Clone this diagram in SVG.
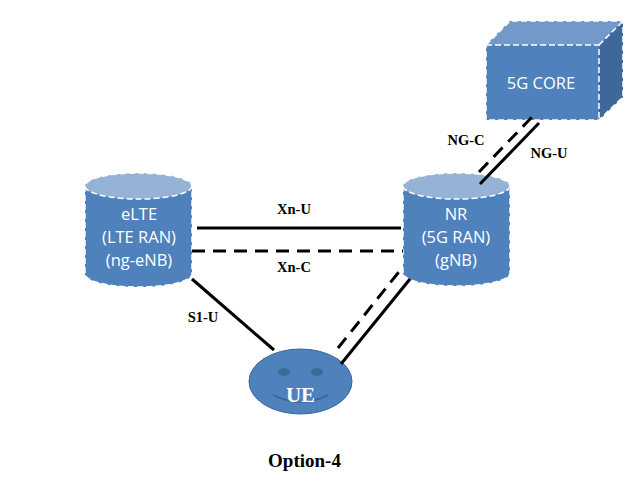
<svg xmlns="http://www.w3.org/2000/svg" width="640" height="483" viewBox="0 0 640 483">
<style>
.body{fill:#4f81bd;stroke:#fff;stroke-width:1.5;stroke-dasharray:6 3}
.top{fill:#95b3d7;stroke:#fff;stroke-width:1.5;stroke-dasharray:6 3}
.solid{fill:none;stroke:#000;stroke-width:3}
.dash{fill:none;stroke:#000;stroke-width:3;stroke-dasharray:13 8}
.in{font-family:"Open Sans","Noto Sans",sans-serif;font-size:16.500px;fill:#fff;text-anchor:middle}
.lab{font-family:"Liberation Serif",serif;font-weight:bold;font-size:14.500px;fill:#000;text-anchor:middle}
</style>
<rect width="640" height="483" fill="#fff"/>
<g id="core">
<path d="M486 45L510 21H623V97L599 120H486Z" fill="#4f81bd"/>
<path d="M486 45L510 21H623L599 45Z" fill="#7299ca"/>
<path d="M599 45L623 21V97L599 120Z" fill="#3f689a"/>
<path d="M486 45H599V120M599 45L623 21" fill="none" stroke="#fff" stroke-width="1.500" stroke-dasharray="6 3"/>
<path d="M486 45L510 21H623V97L599 120H486Z" fill="none" stroke="#fff" stroke-width="1.500" stroke-dasharray="6 3"/>
<text class="in" x="541" y="89">5G CORE</text>
</g>
<g id="elte">
<path class="body" d="M85 186V274C85 281 107 287 138 287S192 281 192 274V186Z"/>
<ellipse class="top" cx="138.500" cy="186" rx="53.500" ry="13"/>
<text class="in" x="139" y="220">eLTE</text>
<text class="in" x="139" y="243">(LTE RAN)</text>
<text class="in" x="139" y="266">(ng-eNB)</text>
</g>
<g id="nr">
<path class="body" d="M403 186V273C403 280 425 286 456 286S510 280 510 273V186Z"/>
<ellipse class="top" cx="456.500" cy="186" rx="53.500" ry="13"/>
<text class="in" x="456" y="220">NR</text>
<text class="in" x="456" y="243">(5G RAN)</text>
<text class="in" x="456" y="266">(gNB)</text>
</g>
<g id="ue">
<ellipse cx="300.500" cy="381.500" rx="51.500" ry="32.500" fill="#4f81bd" stroke="#3a6595" stroke-width="1"/>
<ellipse cx="284" cy="372" rx="6" ry="4" fill="#3f689a"/>
<ellipse cx="317" cy="372" rx="6" ry="4" fill="#3f689a"/>
<path d="M273 395Q301 409 328 395" fill="none" stroke="#3a6595" stroke-width="1.500"/>
<text x="300.500" y="402" text-anchor="middle" font-family="Liberation Serif,serif" font-weight="bold" font-size="21" fill="#fff">UE</text>
</g>
<g id="connectors">
<path class="solid" d="M197 228H401"/>
<path class="dash" d="M192 251H403"/>
<path class="solid" d="M192 279L274 350"/>
<path class="solid" d="M341 364L410 279"/>
<path class="dash" d="M338 348L402 268"/>
<path class="solid" d="M480 184L539 123"/>
<path class="dash" d="M479 172L534 115"/>
</g>
<g id="labels">
<text class="lab" x="294" y="214">Xn-U</text>
<text class="lab" x="294" y="272">Xn-C</text>
<text class="lab" x="203" y="322">S1-U</text>
<text class="lab" x="466" y="145">NG-C</text>
<text class="lab" x="549" y="158">NG-U</text>
<text x="304.500" y="467" text-anchor="middle" font-family="Liberation Serif,serif" font-weight="bold" font-size="19" fill="#000">Option-4</text>
</g>
</svg>
